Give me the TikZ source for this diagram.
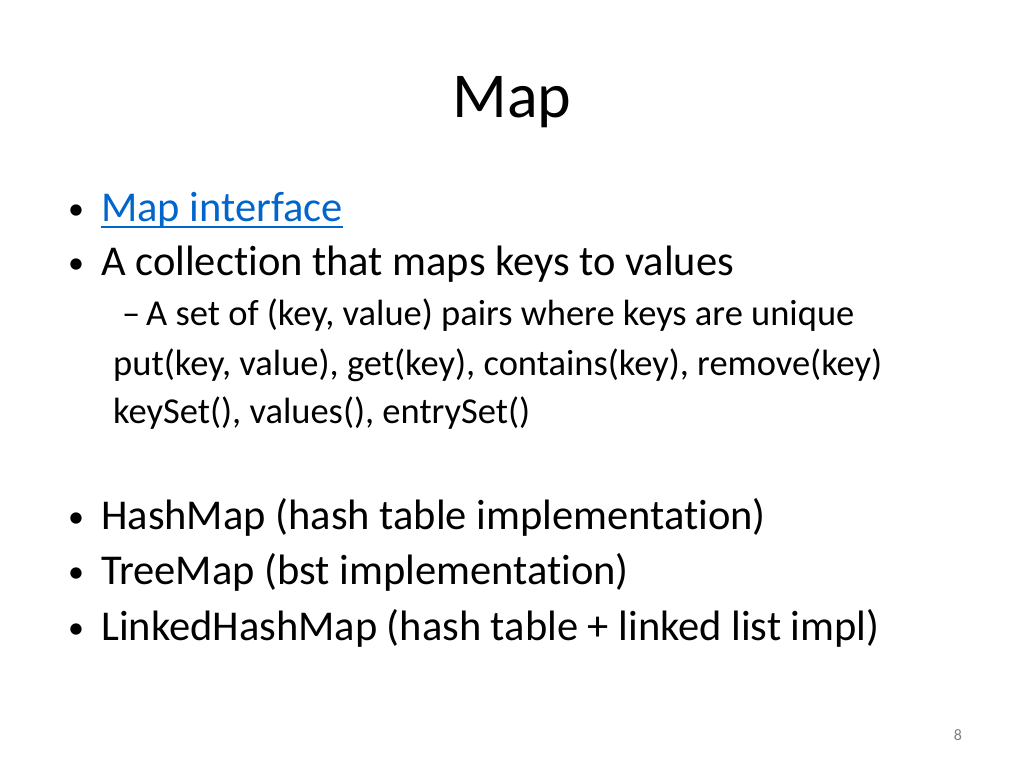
\documentclass[tikz,border=0pt]{standalone}
\usepackage{fontspec}
\setmainfont{Carlito}[Ligatures=NoCommon]
\begin{document}
\begin{tikzpicture}[x=1pt,y=1pt,
  txt/.style={anchor=base west,inner sep=0pt,font=\fontsize{42.5}{46}\selectfont},
  sub/.style={anchor=base west,inner sep=0pt,font=\fontsize{36.5}{40}\selectfont},
  bul/.style={anchor=base,inner sep=0pt,font=\fontsize{32}{40}\selectfont}]
\useasboundingbox[fill=white] (0,0) rectangle (1024,768);
\definecolor{linkc}{RGB}{0,102,204}
\node[anchor=base,inner sep=0pt,font=\fontsize{64}{70}\selectfont] (title) at (512,768-118) {Map};
\node[bul] (b1) at (76,768-220) {•};
\node[txt,text=linkc] (l1) at (101,768-222) {Map interface};
\draw[linkc,line width=1.6pt] ([yshift=-5]l1.base west) -- ([yshift=-5]l1.base east);
\node[bul] (b2) at (76,768-274) {•};
\node[txt] (l2) at (101,768-276) {A collection that maps keys to values};
\node[sub] (d3) at (122,768-326) {–};
\node[sub] (l3) at (146,768-326) {A set of (key, value) pairs where keys are unique};
\node[sub] (l4) at (113,768-376) {put(key, value), get(key), contains(key), remove(key)};
\node[sub] (l5) at (113,768-424) {keySet(), values(), entrySet()};
\node[bul] (b6) at (76,768-528) {•};
\node[txt] (l6) at (101,768-530) {HashMap (hash table implementation)};
\node[bul] (b7) at (76,768-583) {•};
\node[txt] (l7) at (101,768-585) {TreeMap (bst implementation)};
\node[bul] (b8) at (76,768-638) {•};
\node[txt] (l8) at (101,768-640) {LinkedHashMap (hash table + linked list impl)};
\node[anchor=base,inner sep=0pt,text=gray,font=\fontsize{16}{18}\selectfont] (pg) at (958,768-740) {8};
\end{tikzpicture}
\end{document}
